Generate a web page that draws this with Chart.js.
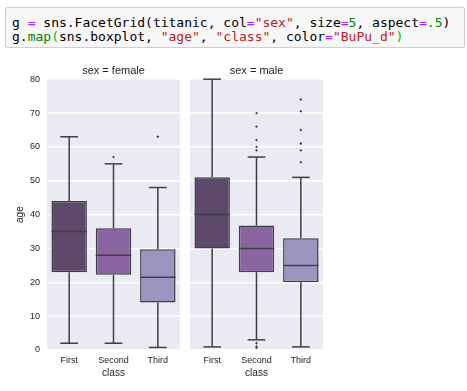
<!DOCTYPE html>
<html><head><meta charset="utf-8">
<script src="https://cdn.jsdelivr.net/npm/chart.js@4/dist/chart.umd.min.js"></script>
<style>
html,body{margin:0;padding:0;background:#fff;width:467px;height:391px;overflow:hidden;}
#code{position:absolute;left:5px;top:7px;width:460px;height:41px;box-sizing:border-box;background:#f7f7f7;border:1px solid #cfcfcf;border-radius:2px;
font-family:"DejaVu Sans Mono",monospace;font-size:13px;line-height:14px;padding:8px 0 0 6px;color:#000;white-space:pre;overflow:hidden;}
.o{color:#AA22FF}.s{color:#BA2121}.n{color:#008800}.b{color:#008000}.m{color:#00bb00}
#c1{position:absolute;left:0;top:56px;}
#c2{position:absolute;left:185px;top:56px;}
</style></head><body>
<div id="code">g <span class="o">=</span> sns.FacetGrid(titanic, col<span class="o">=</span><span class="s">"sex"</span>, size<span class="o">=</span><span class="n">5</span>, aspect<span class="o">=</span><span class="n">.5</span>)
g.<span class="b">map</span><span class="m">(</span>sns.boxplot, <span class="s">"age"</span>, <span class="s">"class"</span>, color<span class="o">=</span><span class="s">"BuPu_d"</span><span class="m">)</span></div>
<canvas id="c1" width="185" height="335"></canvas>
<canvas id="c2" width="143" height="335"></canvas>
<script>
const categories = ["First", "Second", "Third"];
const yTicks = [0, 10, 20, 30, 40, 50, 60, 70, 80];
// female: [whiskerLow, q1, median, q3, whiskerHigh]
const femaleLow = [2, 2, 0.75];
const femaleQ1 = [23, 22.25, 14];
const femaleMed = [35, 28, 21.5];
const femaleQ3 = [44, 36, 29.75];
const femaleHigh = [63, 55, 48];
const femaleOutliers = [["Second", 57], ["Third", 63]];
// male
const maleLow = [0.92, 3, 0.92];
const maleQ1 = [30, 23, 20];
const maleMed = [40, 30, 25];
const maleQ3 = [51, 36.75, 33];
const maleHigh = [80, 57, 51];
const maleOutliers = [["Second", 70], ["Second", 66], ["Second", 62], ["Second", 60], ["Second", 59],
  ["Second", 2], ["Second", 1], ["Second", 0.67],
  ["Third", 74], ["Third", 70.5], ["Third", 65], ["Third", 61], ["Third", 59], ["Third", 55.5]];
const boxColors = ["#5d4a6b", "#8a65a1", "#9c95bf"];
const edge = "#3f3f46";

const bgPlugin = {
  id: 'bg',
  beforeDraw(chart) {
    const a = chart.chartArea, ctx = chart.ctx;
    ctx.save(); ctx.fillStyle = '#EAEAF2';
    ctx.fillRect(a.left, a.top, a.right - a.left, a.bottom - a.top);
    ctx.restore();
  }
};
const whiskerPlugin = {
  id: 'whisk',
  beforeDatasetsDraw(chart) {
    const o = chart.options.plugins.whisk;
    const x = chart.scales.x, y = chart.scales.y, ctx = chart.ctx;
    const meta = chart.getDatasetMeta(0);
    ctx.save(); ctx.strokeStyle = edge; ctx.lineWidth = 1.5;
    o.low.forEach((lo, i) => {
      const cx = x.getPixelForValue(i);
      const w = meta.data[i].width;
      const cap = w / 4;
      const pts = [[lo, o.q1[i]], [o.q3[i], o.high[i]]];
      pts.forEach(p => {
        ctx.beginPath(); ctx.moveTo(cx, y.getPixelForValue(p[0])); ctx.lineTo(cx, y.getPixelForValue(p[1])); ctx.stroke();
      });
      [lo, o.high[i]].forEach(v => {
        const py = y.getPixelForValue(v);
        ctx.beginPath(); ctx.moveTo(cx - cap, py); ctx.lineTo(cx + cap, py); ctx.stroke();
      });
    });
    ctx.restore();
  },
  afterDatasetsDraw(chart) {
    const o = chart.options.plugins.whisk;
    const x = chart.scales.x, y = chart.scales.y, ctx = chart.ctx;
    const meta = chart.getDatasetMeta(0);
    ctx.save(); ctx.strokeStyle = edge; ctx.lineWidth = 1.5;
    o.med.forEach((m, i) => {
      const cx = x.getPixelForValue(i);
      const w = meta.data[i].width;
      const py = y.getPixelForValue(m);
      ctx.beginPath(); ctx.moveTo(cx - w / 2, py); ctx.lineTo(cx + w / 2, py); ctx.stroke();
    });
    ctx.restore();
  }
};

function makeChart(id, title, low, q1, med, q3, high, outliers, showY) {
  return new Chart(document.getElementById(id), {
    data: {
      labels: categories,
      datasets: [{
        type: 'bar',
        data: q1.map((v, i) => [v, q3[i]]),
        backgroundColor: boxColors,
        borderColor: edge, borderWidth: 1.5, borderSkipped: false,
        barPercentage: 0.8, categoryPercentage: 1, order: 2
      }, {
        type: 'scatter',
        data: outliers.map(p => ({x: p[0], y: p[1]})),
        pointStyle: 'rectRot', pointRadius: 1.4, backgroundColor: '#3f3f46', borderWidth: 0, order: 1
      }]
    },
    options: {
      responsive: false, animation: false, devicePixelRatio: 1,
      layout: {padding: {top: 2, right: 5, left: 0, bottom: 0}},
      plugins: {
        legend: {display: false}, tooltip: {enabled: false},
        title: {display: true, fullSize: false, text: title, color: '#222', font: {family: 'Liberation Sans', size: 11, weight: 'normal'}, padding: {top: 6, bottom: 2}},
        whisk: {low, q1, med, q3, high}
      },
      scales: {
        x: {
          type: 'category', labels: categories, offset: true,
          grid: {display: false, drawTicks: false}, border: {display: false},
          ticks: {color: '#222', padding: 5, font: {family: 'Liberation Sans', size: 9}},
          title: {display: true, text: 'class', color: '#222', font: {family: 'Liberation Sans', size: 10}, padding: {top: 0, bottom: 12}},
          afterFit(s) { s.height = 41; }
        },
        y: {
          min: 0, max: 80,
          afterBuildTicks(s) { s.ticks = yTicks.map(v => ({value: v})); },
          grid: {color: '#ffffff', lineWidth: 1.5, drawTicks: false},
          border: {display: false},
          ticks: {display: showY, color: '#222', padding: 7, font: {family: 'Liberation Sans', size: 9}},
          title: {display: showY, text: 'age', color: '#222', font: {family: 'Liberation Sans', size: 10}, padding: {top: 14, bottom: 0}},
          afterFit(s) { s.width = showY ? 47 : 5; }
        }
      }
    },
    plugins: [bgPlugin, whiskerPlugin]
  });
}
makeChart('c1', 'sex = female', femaleLow, femaleQ1, femaleMed, femaleQ3, femaleHigh, femaleOutliers, true);
makeChart('c2', 'sex = male', maleLow, maleQ1, maleMed, maleQ3, maleHigh, maleOutliers, false);
</script>
</body></html>
